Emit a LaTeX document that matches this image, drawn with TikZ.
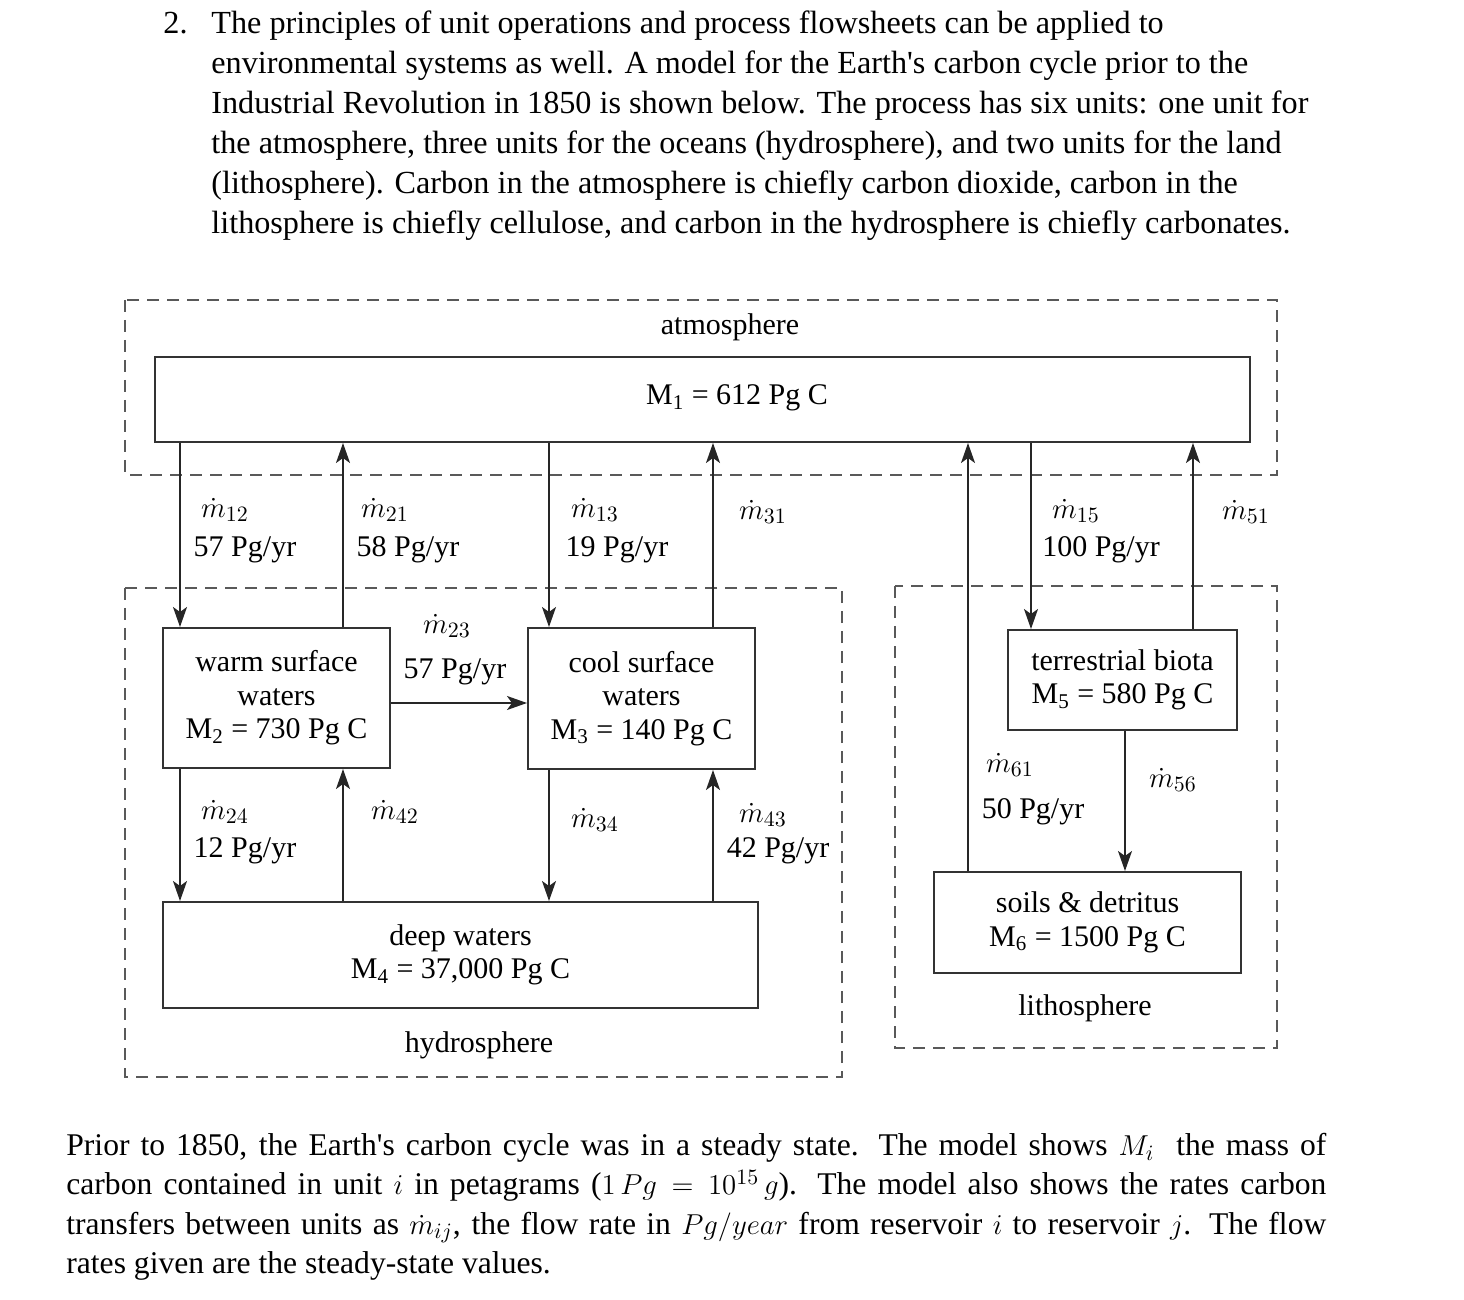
\documentclass[tikz,border=0pt]{standalone}
\usepackage{fontspec}
\setmainfont{Liberation Serif}
\usetikzlibrary{arrows.meta}

\newcommand{\bodyfont}{\fontsize{16.1}{20}\selectfont}
\newcommand{\notefont}{\fontsize{15.8}{19.6}\selectfont}
\newcommand{\diagfont}{\fontsize{15}{16.7}\selectfont}

\tikzset{
  unitbox/.style={draw=black!80, line width=1pt, inner sep=0pt, align=center, font=\diagfont},
  zone/.style={draw=black!65, line width=1pt, dash pattern=on 6pt off 4pt},
  flow/.style={draw=black!85, line width=0.8pt, -{Stealth[length=10pt,width=7pt,inset=2.5pt]}},
  lbl/.style={font=\diagfont, inner sep=0pt},
  rate/.style={font=\diagfont, inner sep=0pt},
}

\begin{document}
\begin{tikzpicture}[x=0.5pt, y=-0.5pt]
  \useasboundingbox (0,0) rectangle (1464,1300);

  % question text
  \node[anchor=north west, inner sep=0pt, font=\bodyfont, align=left] (qtext) at (211,10)
    {The principles of unit operations and process flowsheets can be applied to\\
     environmental systems as well. A model for the Earth\textquotesingle s carbon cycle prior to the\\
     Industrial Revolution in 1850 is shown below. The process has six units: one unit for\\
     the atmosphere, three units for the oceans (hydrosphere), and two units for the land\\
     (lithosphere). Carbon in the atmosphere is chiefly carbon dioxide, carbon in the\\
     lithosphere is chiefly cellulose, and carbon in the hydrosphere is chiefly carbonates.};
  \node[anchor=north west, inner sep=0pt, font=\bodyfont] (qnum) at (163,12) {2.};

  % zones
  \draw[zone] (125,300) rectangle (1277,475);
  \draw[zone] (125,588) rectangle (842,1077);
  \draw[zone] (895,586) rectangle (1277,1048);
  \node[lbl] (atmlbl) at (730,327) {atmosphere};
  \node[lbl] (hydlbl) at (479,1045) {hydrosphere};
  \node[lbl] (litlbl) at (1085,1008) {lithosphere};

  % units
  \node[unitbox, minimum width=547.5pt, minimum height=42.5pt] (atm) at (702.5,399.5) {};
  \node[lbl] (atmmass) at (737,398) {M\textsubscript{1} = 612 Pg C};
  \node[unitbox, minimum width=113.5pt, minimum height=70pt] (warm) at (276.5,698)
    {warm surface\\ waters\\ M\textsubscript{2} = 730 Pg C};
  \node[unitbox, minimum width=113.5pt, minimum height=70.5pt] (cool) at (641.5,698.5)
    {cool surface\\ waters\\ M\textsubscript{3} = 140 Pg C};
  \node[unitbox, minimum width=297.5pt, minimum height=53pt] (deep) at (460.5,955)
    {deep waters\\ M\textsubscript{4} = 37,000 Pg C};
  \node[unitbox, minimum width=114.5pt, minimum height=50pt] (biota) at (1122.5,680)
    {terrestrial biota\\ M\textsubscript{5} = 580 Pg C};
  \node[unitbox, minimum width=153.5pt, minimum height=50.5pt] (soils) at (1087.5,922.5)
    {soils \& detritus\\ M\textsubscript{6} = 1500 Pg C};

  % flows
  \draw[flow] (atm.south -| 180,0) -- (warm.north -| 180,0);
  \draw[flow] (warm.north -| 343,0) -- (atm.south -| 343,0);
  \draw[flow] (atm.south -| 549,0) -- (cool.north -| 549,0);
  \draw[flow] (cool.north -| 713,0) -- (atm.south -| 713,0);
  \draw[flow] (warm.east |- 0,703) -- (cool.west |- 0,703);
  \draw[flow] (warm.south -| 180,0) -- (deep.north -| 180,0);
  \draw[flow] (deep.north -| 343,0) -- (warm.south -| 343,0);
  \draw[flow] (cool.south -| 549,0) -- (deep.north -| 549,0);
  \draw[flow] (deep.north -| 713,0) -- (cool.south -| 713,0);
  \draw[flow] (soils.north -| 968,0) -- (atm.south -| 968,0);
  \draw[flow] (atm.south -| 1031,0) -- (biota.north -| 1031,0);
  \draw[flow] (biota.north -| 1193,0) -- (atm.south -| 1193,0);
  \draw[flow] (biota.south -| 1125,0) -- (soils.north -| 1125,0);

  % rates
  \node[rate] (m12) at (225,510) {$\dot m_{12}$};
  \node[rate] (r12) at (245,550) {57 Pg/yr};
  \node[rate] (m21) at (385,510) {$\dot m_{21}$};
  \node[rate] (r21) at (408,550) {58 Pg/yr};
  \node[rate] (m13) at (595,510) {$\dot m_{13}$};
  \node[rate] (r13) at (617,550) {19 Pg/yr};
  \node[rate] (m31) at (763,512) {$\dot m_{31}$};
  \node[rate] (m15) at (1076,511) {$\dot m_{15}$};
  \node[rate] (r15) at (1101,550) {100 Pg/yr};
  \node[rate] (m51) at (1246,512) {$\dot m_{51}$};
  \node[rate] (m23) at (447,626) {$\dot m_{23}$};
  \node[rate] (r23) at (455,672) {57 Pg/yr};
  \node[rate] (m24) at (225,812) {$\dot m_{24}$};
  \node[rate] (r24) at (245,851) {12 Pg/yr};
  \node[rate] (m42) at (395,812) {$\dot m_{42}$};
  \node[rate] (m34) at (595,820) {$\dot m_{34}$};
  \node[rate] (m43) at (763,815) {$\dot m_{43}$};
  \node[rate] (r43) at (778,851) {42 Pg/yr};
  \node[rate] (m61) at (1010,765) {$\dot m_{61}$};
  \node[rate] (r61) at (1033,812) {50 Pg/yr};
  \node[rate] (m56) at (1173,780) {$\dot m_{56}$};

  % closing text
  \node[anchor=north west, inner sep=0pt, font=\notefont, text width=630pt, align=justify] (note) at (66,1133)
    {Prior to 1850, the Earth\textquotesingle s carbon cycle was in a steady state. The model shows $M_i$\ \ the mass of\linebreak
     carbon contained in unit $i$ in petagrams ($1\,Pg\;{=}\;10^{15}\,g$). The model also shows the rates carbon\linebreak
     transfers between units as $\dot m_{ij}$, the flow rate in $Pg/year$ from reservoir $i$ to reservoir $j$. The flow\linebreak
     rates given are the steady-state values.};
\end{tikzpicture}
\end{document}
